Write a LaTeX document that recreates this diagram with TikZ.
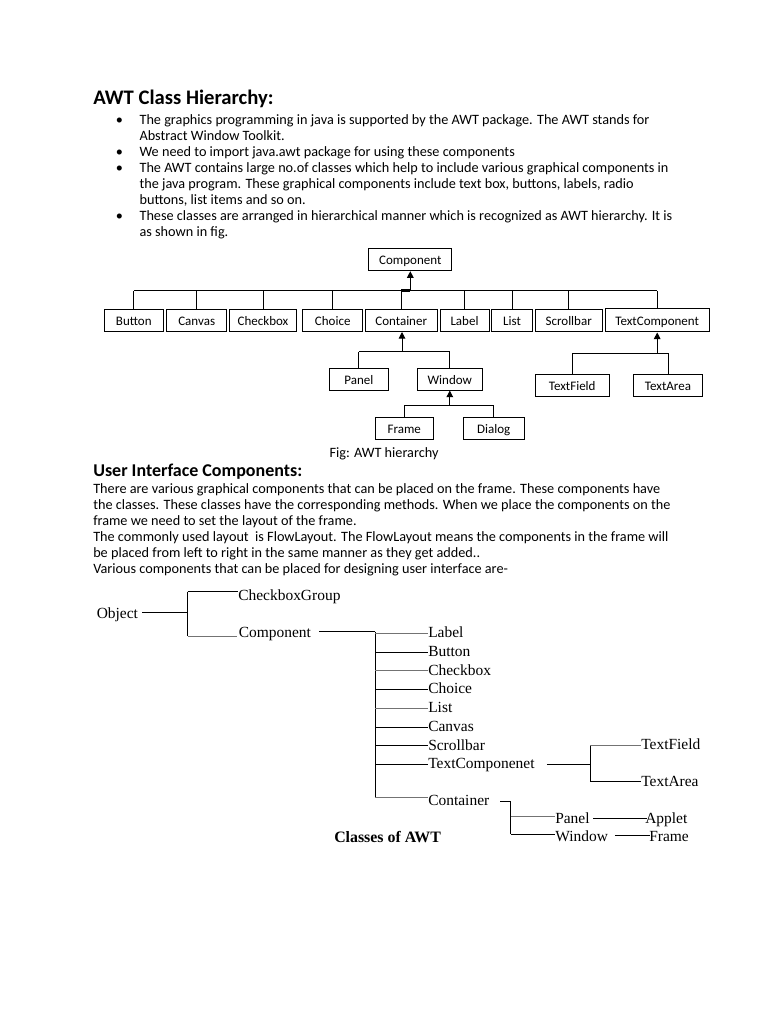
\documentclass[tikz,border=0pt]{standalone}
\usepackage{fontspec}
\setmainfont{Carlito}
\newfontfamily\timesf{Liberation Serif}
\usetikzlibrary{arrows.meta}
\begin{document}
\begin{tikzpicture}[x=0.75pt,y=-0.75pt,
 txt/.style={anchor=base west, inner sep=0pt, font=\fontsize{10.68pt}{12pt}\selectfont},
 ttl/.style={anchor=base west, inner sep=0pt, font=\fontsize{13.5pt}{16pt}\selectfont\bfseries},
 bx/.style={draw, line width=0.75pt, inner sep=0pt, minimum height=16.8pt, text height=7.6pt, text depth=0pt, font=\fontsize{9.75pt}{11pt}\selectfont},
 cn/.style={line width=0.75pt},
 up/.style={cn, -{Triangle[length=5pt,width=5pt]}},
 tm/.style={anchor=base west, inner sep=0pt, font=\timesf\fontsize{11.6pt}{13pt}\selectfont},
 tl/.style={line width=0.75pt, black},
 tg/.style={line width=0.75pt, black!55},
]
\useasboundingbox[fill=white] (0,0) rectangle (768,1024);

% ---------- text, section 1 ----------
\node[ttl, font=\fontsize{15.5pt}{18pt}\selectfont\bfseries] (h1) at (93,104.7) {AWT Class Hierarchy:};
\node[txt] (b1) at (115.5,124) {•};
\node[txt] (b2) at (115.5,156.3) {•};
\node[txt] (b3) at (115.5,172.3) {•};
\node[txt] (b4) at (115.5,220.7) {•};
\node[txt] (p1) at (139.3,124) {The graphics programming in java is supported by the AWT package. The AWT stands for};
\node[txt] (p2) at (139.3,140.2) {Abstract Window Toolkit.};
\node[txt] (p3) at (139.3,156.3) {We need to import java.awt package for using these components};
\node[txt] (p4) at (139.3,172.3) {The AWT contains large no.of classes which help to include various graphical components in};
\node[txt] (p5) at (139.3,188.4) {the java program. These graphical components include text box, buttons, labels, radio};
\node[txt] (p6) at (139.3,204.5) {buttons, list items and so on.};
\node[txt] (p7) at (139.3,220.7) {These classes are arranged in hierarchical manner which is recognized as AWT hierarchy. It is};
\node[txt] (p8) at (139.3,236.6) {as shown in fig.};

% ---------- AWT hierarchy boxes ----------
\node[bx, minimum width=62pt] (component) at (410.3,259.5) {Component};
\node[bx, minimum width=44.25pt] (button) at (133.8,320.5) {Button};
\node[bx, minimum width=45pt] (canvas) at (196.7,320.5) {Canvas};
\node[bx, minimum width=50.5pt] (checkbox) at (263,320.5) {Checkbox};
\node[bx, minimum width=45pt] (choice) at (332.7,320.5) {Choice};
\node[bx, minimum width=54.2pt] (container) at (401.2,320.3) {Container};
\node[bx, minimum width=36.75pt] (label) at (464.5,320.5) {Label};
\node[bx, minimum width=30.5pt] (list) at (512,320.5) {List};
\node[bx, minimum width=50.5pt] (scrollbar) at (568.7,320.5) {Scrollbar};
\node[bx, minimum width=78.2pt, minimum height=17.5pt] (textcomp) at (657.2,320.3) {TextComponent};
\node[bx, minimum width=44.25pt, minimum height=16.3pt] (panel) at (358.8,379.2) {Panel};
\node[bx, minimum width=48.75pt, minimum height=16.3pt] (window) at (449.8,379.2) {Window};
\node[bx, minimum width=43.7pt, minimum height=16.5pt] (frame) at (404.2,428.3) {Frame};
\node[bx, minimum width=45.5pt, minimum height=16.5pt] (dialog) at (493.7,428.3) {Dialog};
\node[bx, minimum width=55.7pt, minimum height=16.3pt] (textfield) at (572.2,385.8) {TextField};
\node[bx, minimum width=52pt, minimum height=16.3pt] (textarea) at (668,385.8) {TextArea};

\coordinate (bus) at (0,290.5);
\draw[cn] (button.north |- bus) -- (textcomp.north |- bus);
\foreach \n in {button,canvas,checkbox,choice,container,label,list,scrollbar,textcomp}
  \draw[cn] (\n.north) -- (\n.north |- bus);
\draw[line width=1.6pt] (container.north |- bus) -- (component.south |- bus);
\draw[up] (component.south |- bus) -- (component.south);

\coordinate (cb) at (0,351.7);
\draw[up] ([xshift=0.6pt]container.south |- cb) -- ([xshift=0.6pt]container.south);
\draw[cn] (panel.north |- cb) -- (window.north |- cb);
\draw[cn] (panel.north) -- (panel.north |- cb);
\draw[cn] (window.north) -- (window.north |- cb);

\coordinate (wb) at (0,405);
\draw[up] (window.south |- wb) -- (window.south);
\draw[cn] (frame.north |- wb) -- (dialog.north |- wb);
\draw[cn] (frame.north) -- (frame.north |- wb);
\draw[cn] (dialog.north) -- (dialog.north |- wb);

\coordinate (tb) at (0,353.3);
\draw[up] (textcomp.south |- tb) -- (textcomp.south);
\draw[cn] (textfield.north |- tb) -- (textarea.north |- tb);
\draw[cn] (textfield.north) -- (textfield.north |- tb);
\draw[cn] (textarea.north) -- (textarea.north |- tb);

\node[txt] (fig) at (329.3,457.3) {Fig: AWT hierarchy};

% ---------- text, section 2 ----------
\node[ttl] (h2) at (93,476.7) {User Interface Components:};
\node[txt] (q1) at (93,493.5) {There are various graphical components that can be placed on the frame. These components have};
\node[txt] (q2) at (93,509.5) {the classes. These classes have the corresponding methods. When we place the components on the};
\node[txt] (q3) at (93,525.5) {frame we need to set the layout of the frame.};
\node[txt] (q4) at (93,541.5) {The commonly used layout\ \ is FlowLayout. The FlowLayout means the components in the frame will};
\node[txt] (q5) at (93,557.5) {be placed from left to right in the same manner as they get added..};
\node[txt] (q6) at (93,573.5) {Various components that can be placed for designing user interface are-};

% ---------- Classes of AWT ----------
\node[tm] (obj) at (96.5,618.3) {Object};
\node[tm] (cbg) at (238,600) {CheckboxGroup};
\node[tm] (cmp) at (238.5,637.3) {Component};
\coordinate (j1) at (187.7,612.3);
\draw[tl] ([xshift=3pt]obj.east |- j1) -- (j1);
\draw[tl] (j1 |- 0,591.7) -- (j1 |- 0,636);
\draw[tl] (j1 |- 0,591.7) -- (cbg.west |- 0,591.7);
\draw[tg] (j1 |- 0,636) -- ([xshift=-1pt]cmp.west |- 0,636);

\coordinate (v1) at (375,631.7);
\draw[tl] ([xshift=6pt]cmp.east |- v1) -- (v1);

\node[tm] (lbl) at (428,637.8) {Label};
\node[tm] (btn) at (428,656.5) {Button};
\node[tm] (chk) at (428,675.2) {Checkbox};
\node[tm] (cho) at (428,693.9) {Choice};
\node[tm] (lst) at (428,712.6) {List};
\node[tm] (cnv) at (428,731.3) {Canvas};
\node[tm] (scr) at (428,750.0) {Scrollbar};
\node[tm] (tcn) at (428,768.7) {TextComponenet};
\node[tm] (cnt) at (428,805) {Container};

\coordinate (cntl) at ([yshift=5.5pt]cnt.base west);
\draw[tl] (v1) -- (v1 |- cntl);
\foreach \n/\s in {lbl/tg,btn/tl,chk/tg,cho/tl,lst/tg,cnv/tl,scr/tl,tcn/tl}
  \draw[\s] ([yshift=3.2pt]\n.base west -| v1) -- ([yshift=3.2pt]\n.base west);
\draw[tg] (v1 |- cntl) -- (cntl);

% TextComponenet subtree
\node[tm] (tf) at (641,749.3) {TextField};
\node[tm] (ta) at (641,786.5) {TextArea};
\coordinate (tcy) at ([yshift=3.2pt]tcn.base east);
\coordinate (tv) at (590,0);
\coordinate (tfy) at ([yshift=3.2pt]tf.base west);
\coordinate (tay) at ([yshift=4pt]ta.base west);
\draw[tl] ([xshift=9pt]tcy) -- (tcy -| tv);
\draw[tl] (tfy -| tv) -- (tay -| tv);
\draw[tg] (tfy -| tv) -- (tfy);
\draw[tl] (tay -| tv) -- (tay);

% Container subtree
\node[tm] (pnl) at (555,823.3) {Panel};
\node[tm] (win) at (555,841.7) {Window};
\node[tm] (apl) at (645,823) {Applet};
\node[tm] (frm) at (649,841.7) {Frame};
\coordinate (cy) at ([yshift=3pt]cnt.base east);
\coordinate (cv) at (510.7,0);
\coordinate (py) at ([yshift=5pt]pnl.base west);
\coordinate (wy) at ([yshift=5.5pt]win.base west);
\draw[tl] ([xshift=8pt]cy) -- (cy -| cv);
\draw[tl] (cy -| cv) -- (wy -| cv);
\draw[tg] (py -| cv) -- (py);
\draw[tl] (wy -| cv) -- (wy);
\coordinate (ay) at ([yshift=3.5pt]apl.base west);
\coordinate (fy) at ([yshift=4.5pt]frm.base west);
\draw[tl] ([xshift=2.5pt]pnl.base east |- ay) -- ([xshift=1.2pt]ay);
\draw[tl] ([xshift=5pt]win.base east |- fy) -- ([xshift=0.8pt]fy);

\node[tm, font=\timesf\bfseries\fontsize{11.9pt}{13pt}\selectfont] (cls) at (334,842.7) {Classes of AWT};
\end{tikzpicture}
\end{document}
